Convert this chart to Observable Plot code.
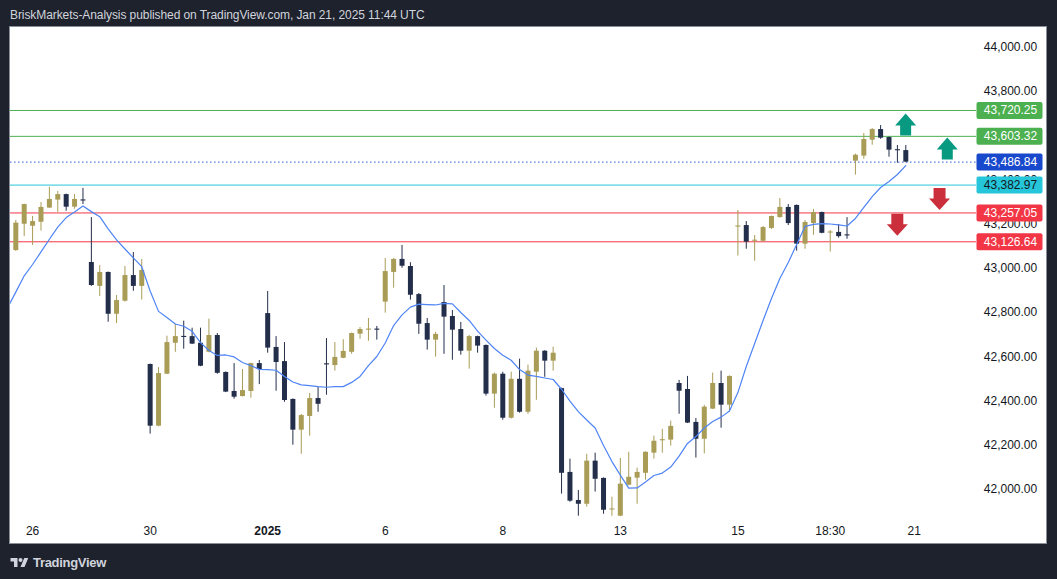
<!DOCTYPE html>
<html>
<head>
<meta charset="utf-8">
<script src="https://cdn.jsdelivr.net/npm/d3@7"></script>
<script src="https://cdn.jsdelivr.net/npm/@observablehq/plot@0.6"></script>
<style>
  html, body { margin: 0; padding: 0; width: 1057px; height: 579px; overflow: hidden; background: #1e222d;
    font-family: "Liberation Sans", Arial, sans-serif; }
  #title { position: absolute; left: 10px; top: 9px; line-height: 12px; font-size: 12px; color: #d1d4dc;
    white-space: nowrap; letter-spacing: -0.08px; }
  #chart { position: absolute; left: 10px; top: 27px; width: 1036px; height: 516px; background: #ffffff;
    outline: 1px solid #8a8e98; }
  #footer { position: absolute; left: 10px; top: 554px; height: 16px; display: flex; align-items: center; gap: 4px;
    color: #d1d4dc; font-size: 13px; font-weight: 600; letter-spacing: -0.3px; }
</style>
</head>
<body>
<div id="title">BriskMarkets-Analysis published on TradingView.com, Jan 21, 2025 11:44 UTC</div>
<div id="chart"></div>
<div id="footer">
  <svg width="19" height="13" viewBox="0 0 36 26"><path fill="#d1d4dc" d="M14 22H7V11H0V4h14v18zM28 22h-8l7.5-18h8L28 22z"/><circle fill="#d1d4dc" cx="20" cy="8" r="4"/></svg>
  <span>TradingView</span>
</div>
<script>
// US30 4-hour candles, 26 Dec 2024 – 21 Jan 2025
const open = [43087,43206,43197,43215,43279,43315,43340,43283,43316,43033,
  42925,42988,42799,42858,42974,42925,42572,42293,42528,42668,
  42699,42698,42668,42627,42703,42536,42450,42427,42450,42576,
  42802,42649,42585,42414,42275,42337,42418,42575,42567,42600,
  42627,42709,42727,42732,42854,42988,43047,43015,42888,42757,
  42682,42852,42789,42730,42632,42698,42658,42438,42528,42329,
  42505,42356,42537,42632,42587,42463,42084,41957,41940,42135,
  42057,41914,41886,42026,42058,42080,42171,42227,42230,42486,
  42459,42310,42234,42370,42486,42388,43193,43200,43129,43129,
  43187,43236,43282,43291,43116,43209,43259,43166,43169,43158,
  43491,43514,43586,43634,43598,43543,43539];
const high = [43223,43297,43241,43304,43373,43354,43342,43340,43368,43236,
  43019,42990,42884,43015,43078,43047,42574,42558,42700,42754,
  42768,42736,42736,42777,42712,42538,42576,42549,42578,42590,
  42902,42698,42671,42416,42346,42441,42468,42689,42671,42684,
  42714,42739,42780,42744,43051,43051,43110,43032,42893,42780,
  42717,42929,42816,42762,42703,42700,42660,42533,42537,42537,
  42596,42569,42646,42634,42650,42465,42144,42002,42166,42171,
  42059,41972,42147,42175,42103,42177,42248,42279,42316,42500,
  42518,42328,42387,42533,42542,42520,43268,43218,43155,43196,
  43243,43322,43295,43293,43223,43273,43261,43178,43205,43236,
  43523,43616,43639,43652,43600,43562,43562];
const low = [43083,43150,43110,43175,43277,43260,43265,43274,43295,42925,
  42879,42763,42757,42854,42903,42863,42257,42290,42526,42627,
  42641,42662,42562,42625,42528,42445,42415,42425,42420,42481,
  42623,42451,42401,42207,42166,42248,42356,42433,42542,42598,
  42618,42686,42677,42682,42804,42917,43007,42863,42708,42637,
  42605,42618,42591,42614,42551,42623,42429,42374,42320,42325,
  42352,42347,42410,42514,42542,41986,41949,41886,41927,41995,
  41895,41886,41884,42024,41940,42049,42144,42171,42203,42347,
  42305,42149,42168,42368,42284,42356,43062,43093,43039,43125,
  43182,43234,43200,43084,43093,43156,43163,43080,43143,43138,
  43428,43500,43563,43590,43509,43482,43484];
const close = [43211,43295,43218,43282,43318,43340,43283,43318,43311,42929,
  42988,42799,42861,42974,42925,42997,42293,42531,42671,42698,
  42694,42664,42564,42703,42532,42447,42424,42454,42576,42549,
  42646,42581,42409,42275,42341,42418,42392,42570,42604,42631,
  42712,42730,42732,42727,42992,43047,43016,42885,42754,42682,
  42708,42786,42727,42632,42698,42655,42438,42528,42329,42505,
  42356,42542,42632,42587,42623,42080,41954,41940,42135,42053,
  41913,41919,42031,42062,42084,42175,42225,42232,42292,42451,
  42307,42234,42379,42486,42388,42518,43198,43125,43134,43191,
  43241,43282,43209,43116,43214,43259,43165,43171,43150,43153,
  43518,43589,43634,43595,43541,43538,43486.84];
// moving average overlay, one value per candle
const movingAvg = [42899,42973,43024,43081,43138,43193,43236,43261,43288,43263,
  43240,43185,43135,43094,43054,43014,42904,42812,42784,42755,
  42745,42722,42671,42635,42613,42615,42606,42581,42567,42550,
  42549,42546,42518,42493,42480,42476,42472,42469,42472,42472,
  42491,42518,42567,42608,42669,42748,42796,42831,42845,42843,
  42841,42848,42846,42807,42771,42723,42682,42644,42614,42591,
  42549,42524,42518,42511,42504,42460,42406,42359,42321,42285,
  42206,42133,42072,42013,42014,42041,42070,42081,42108,42158,
  42215,42246,42285,42314,42334,42362,42445,42563,42667,42771,
  42870,42961,43033,43114,43196,43205,43209,43207,43203,43198,
  43232,43282,43331,43372,43399,43431,43471];
// average value on the candle just before the visible range
const movingAvgPrior = 42827;

// horizontal levels drawn on the chart
const levels = [43720.25, 43603.32, 43486.84, 43382.97, 43257.05, 43126.64];
// price-scale ticks
const yTicks = [42000, 42200, 42400, 42600, 42800, 43000, 43200, 43400, 43600, 43800, 44000];
// time-scale ticks (candle index) and their labels
const xTickIndex = [2, 16, 30, 44, 58, 72, 86, 97, 107];
const xTickText = ["26", "30", "2025", "6", "8", "13", "15", "18:30", "21"];
const xTickBold = ["2025"];
// direction arrows (candle index, price)
const arrowUpIndex = [105.98, 110.94];
const arrowUpPrice = [43657, 43548];
const arrowDownIndex = [110.02, 104.99];
const arrowDownPrice = [43320, 43204];

// styling
const bullColor = "#a89c56";
const bearColor = "#232e4a";
const maColor = "#4f84f5";
const levelLine = ["#4caf50", "#4caf50", "#2a5bd7", "#26c6da", "#f23645", "#f23645"];
const levelBox = ["#4caf50", "#4caf50", "#1848cc", "#26c6da", "#f23645", "#f23645"];
const levelText = ["#ffffff", "#ffffff", "#ffffff", "#131722", "#ffffff", "#ffffff"];
const levelDash = [null, null, "1.5,2.5", null, null, null];

const candles = open.map((o, i) => ({i, o, h: high[i], l: low[i], c: close[i]}));
const up = candles.filter(d => d.c >= d.o);
const down = candles.filter(d => d.c < d.o);
const maPoints = [{i: -1, v: movingAvgPrior}, ...movingAvg.map((v, i) => ({i, v}))];
const fmt = d3.format(",.2f");

// custom symbols: price tag box and block arrows
const tagSymbol = {
  draw(ctx) {
    const w = 33, h = 8.5, r = 2;
    ctx.moveTo(-w + r, -h);
    ctx.lineTo(w - r, -h); ctx.arcTo(w, -h, w, -h + r, r);
    ctx.lineTo(w, h - r); ctx.arcTo(w, h, w - r, h, r);
    ctx.lineTo(-w + r, h); ctx.arcTo(-w, h, -w, h - r, r);
    ctx.lineTo(-w, -h + r); ctx.arcTo(-w, -h, -w + r, -h, r);
    ctx.closePath();
  }
};
const arrowUpSymbol = {
  draw(ctx) {
    ctx.moveTo(0, -11); ctx.lineTo(10.5, 1); ctx.lineTo(5.5, 1); ctx.lineTo(5.5, 11);
    ctx.lineTo(-5.5, 11); ctx.lineTo(-5.5, 1); ctx.lineTo(-10.5, 1); ctx.closePath();
  }
};
const arrowDownSymbol = {
  draw(ctx) {
    ctx.moveTo(0, 11); ctx.lineTo(10.5, -0.5); ctx.lineTo(6, -0.5); ctx.lineTo(6, -11);
    ctx.lineTo(-6, -11); ctx.lineTo(-6, -0.5); ctx.lineTo(-10.5, -0.5); ctx.closePath();
  }
};

const levelMarks = levels.map((v, k) =>
  Plot.ruleY([v], {stroke: levelLine[k], strokeWidth: 1, strokeDasharray: levelDash[k]})
);
const tagMarks = levels.flatMap((v, k) => [
  Plot.dot([v], {y: d => d, frameAnchor: "right", dx: 33, symbol: tagSymbol, fill: levelBox[k], stroke: null}),
  Plot.text([v], {y: d => d, frameAnchor: "right", dx: 60.7, textAnchor: "end", text: d => fmt(d),
    fill: levelText[k], fontSize: 12})
]);
const tickLabel = i => xTickText[xTickIndex.indexOf(i)];

const chart = Plot.plot({
  width: 1036,
  height: 516,
  marginTop: 0, marginLeft: 0, marginRight: 70, marginBottom: 30,
  style: {background: "transparent", overflow: "visible", color: "#131722",
    fontFamily: "'Liberation Sans', Arial, sans-serif", fontSize: "12px"},
  x: {domain: [0, 106], range: [5.3, 895.3], label: null},
  y: {domain: [42000, 44000], range: [463.5, 21.1], label: null},
  marks: [
    ...levelMarks,
    Plot.axisY(yTicks, {anchor: "right", tickSize: 0, tickPadding: 60.7, textAnchor: "end",
      tickFormat: fmt, fill: "#131722", fontSize: 12, dy: -1.5, label: null}),
    Plot.axisX(xTickIndex.filter(i => !xTickBold.includes(tickLabel(i))), {anchor: "bottom", tickSize: 0,
      tickPadding: 13, tickFormat: tickLabel, fill: "#131722", fontSize: 12, label: null}),
    Plot.axisX(xTickIndex.filter(i => xTickBold.includes(tickLabel(i))), {anchor: "bottom", tickSize: 0,
      tickPadding: 13, tickFormat: tickLabel, fill: "#131722", fontSize: 12, fontWeight: "bold", label: null}),
    // wicks
    Plot.ruleX(up, {x: "i", y1: "l", y2: "h", stroke: bullColor, strokeWidth: 1}),
    Plot.ruleX(down, {x: "i", y1: "l", y2: "h", stroke: bearColor, strokeWidth: 1}),
    // bodies
    Plot.ruleX(up, {x: "i", y1: "o", y2: "c", stroke: bullColor, strokeWidth: 5}),
    Plot.ruleX(down, {x: "i", y1: "o", y2: "c", stroke: bearColor, strokeWidth: 5}),
    // moving average, clipped to the chart pane
    Plot.line(maPoints, {x: "i", y: "v", stroke: maColor, strokeWidth: 1.2, clip: "frame"}),
    // arrows
    Plot.dot(arrowUpIndex.map((x, k) => ({x, y: arrowUpPrice[k]})),
      {x: "x", y: "y", symbol: arrowUpSymbol, fill: "#089981", stroke: null}),
    Plot.dot(arrowDownIndex.map((x, k) => ({x, y: arrowDownPrice[k]})),
      {x: "x", y: "y", symbol: arrowDownSymbol, fill: "#cc2f3c", stroke: null}),
    ...tagMarks
  ]
});
document.getElementById("chart").appendChild(chart);
</script>
</body>
</html>
